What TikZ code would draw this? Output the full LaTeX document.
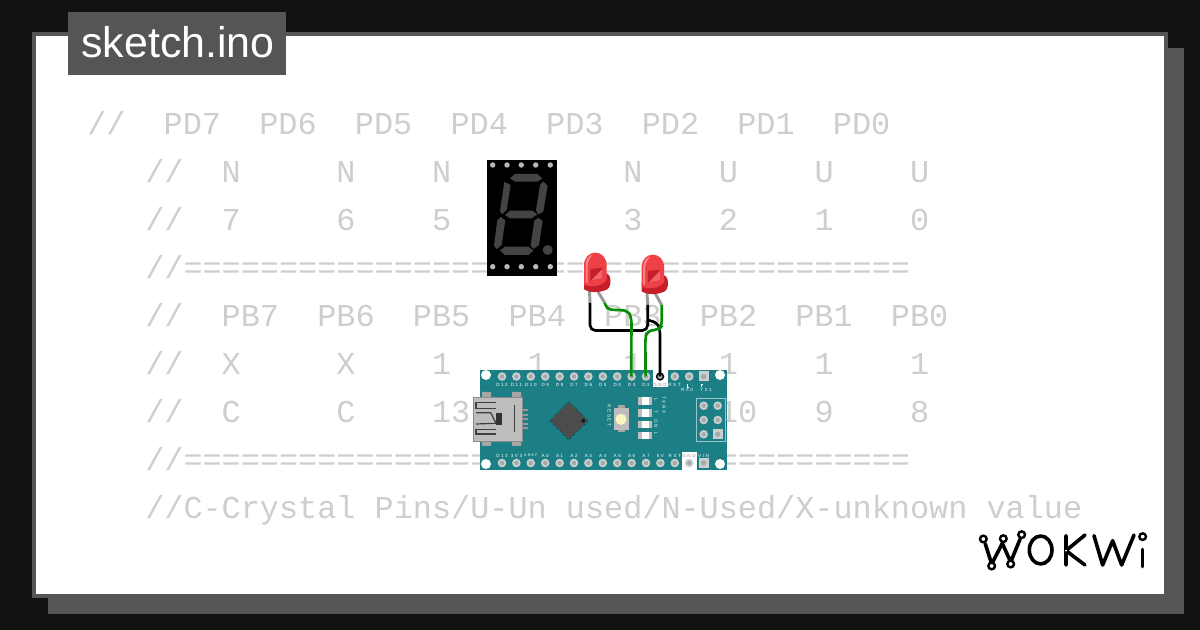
\documentclass[tikz,border=0pt]{standalone}
\usepackage{fontspec}
\setmainfont{Liberation Sans}
\newfontfamily\codefont{Liberation Mono}
\newfontfamily\pinfont[LetterSpace=35]{Liberation Sans}
\definecolor{bgdark}{HTML}{111111}
\definecolor{panelgrey}{HTML}{555555}
\definecolor{codegrey}{HTML}{CECECE}
\definecolor{boardteal}{HTML}{1B7F85}
\definecolor{pinring}{HTML}{C9CFCF}
\definecolor{pincore}{HTML}{A3A9A9}
\definecolor{usbgrey}{HTML}{BDBDBD}
\definecolor{segoff}{HTML}{444444}
\definecolor{ledred}{HTML}{EE4046}
\definecolor{leddark}{HTML}{C41F2A}
\definecolor{ledlight}{HTML}{FF8585}
\definecolor{legrey}{HTML}{9A9A9A}
\definecolor{wiregreen}{HTML}{088C08}
\tikzset{
  code/.style={anchor=base west,inner sep=0pt,text=codegrey,font=\codefont\fontsize{23.9}{24}\selectfont},
  pinlab/.style={inner sep=0pt,text=white,font=\pinfont\fontsize{3.4}{3.4}\selectfont},
  pinlabdark/.style={inner sep=0pt,text=black!45,font=\pinfont\fontsize{3.4}{3.4}\selectfont},
  seg/.style={fill=segoff,draw=none},
  logo/.style={draw=black,line width=2.7pt,line cap=round,line join=round,fill=none},
  logoring/.style={draw=black,line width=1.8pt,fill=white},
  blackwire/.style={draw=black,line width=2pt,rounded corners=4pt},
  greenwire/.style={draw=wiregreen,line width=2pt,rounded corners=4pt},
  leg/.style={draw=legrey,line width=2.2pt},
}
\newcommand{\pinhole}[1]{\fill[pinring] (#1) circle[radius=4.3];\fill[pincore] (#1) circle[radius=2.2];}
\newcommand{\squarepin}[1]{\fill[pinring] ($(#1)+(-5,-5)$) rectangle ($(#1)+(5,5)$);\fill[pincore] (#1) circle[radius=2.6];}
\newcommand{\ledbody}[2]{%
  \begin{scope}[shift={(#1,#2)},scale=0.3333]
    \fill[leddark] (27,105) -- (95,85) .. controls (110,90) and (110,125) .. (97,133) .. controls (75,144) and (45,144) .. (27,133) -- cycle;
    \fill[ledred] (27,118) -- (27,62) .. controls (27,10) and (95,10) .. (95,62) -- (95,105) .. controls (80,126) and (45,128) .. (27,118) -- cycle;
    \fill[ledlight] (32,112) -- (32,62) .. controls (32,42) and (42,32) .. (52,29) .. controls (44,40) and (38,52) .. (38,65) -- (38,114) -- cycle;
    \fill[leddark] (46,72) -- (82,68) -- (82,100) -- (46,106) -- cycle;
    \fill[ledred!80!white] (50,105) -- (82,72) -- (82,100) -- cycle;
  \end{scope}}
\usetikzlibrary{calc}
\begin{document}
\begin{tikzpicture}[x=0.75pt,y=-0.75pt]
\useasboundingbox (0,0) rectangle (1200,630);
\fill[bgdark] (0,0) rectangle (1200,630);
\fill[panelgrey] (48,48) rectangle (1184,614);
\draw[panelgrey,fill=white,line width=3pt] (34,34) rectangle (1166,596);
\fill[panelgrey] (68,12) rectangle (286,75);
\node[anchor=base west,inner sep=0pt,text=white,font=\fontsize{32.2}{32}\selectfont] (title) at (81,58) {sketch.ino};
% code text
\node[code] (code1) at (87,135) {//\ \ PD7\ \ PD6\ \ PD5\ \ PD4\ \ PD3\ \ PD2\ \ PD1\ \ PD0};
\node[code] (code2) at (145,183) {//\ \ N\ \ \ \ \ N\ \ \ \ N\ \ \ \ \ \ \ \ \ N\ \ \ \ U\ \ \ \ U\ \ \ \ U};
\node[code] (code3) at (145,231) {//\ \ 7\ \ \ \ \ 6\ \ \ \ 5\ \ \ \ \ \ \ \ \ 3\ \ \ \ 2\ \ \ \ 1\ \ \ \ 0};
\node[code] (code4) at (145,279) {//======================================};
\node[code] (code5) at (145,327) {//\ \ PB7\ \ PB6\ \ PB5\ \ PB4\ \ PB3\ \ PB2\ \ PB1\ \ PB0};
\node[code] (code6) at (145,375) {//\ \ X\ \ \ \ \ X\ \ \ \ 1\ \ \ \ 1\ \ \ \ 1\ \ \ \ 1\ \ \ \ 1\ \ \ \ 1};
\node[code] (code7) at (145,423) {//\ \ C\ \ \ \ \ C\ \ \ \ 13\ \ \ \ \ \ \ \ \ \ \ \ \ 10\ \ \ 9\ \ \ \ 8};
\node[code] (code8) at (145,471) {//======================================};
\node[code] (code9) at (145,519) {//C-Crystal Pins/U-Un used/N-Used/X-unknown value};
% seven segment display
\fill[black] (486.5,160) rectangle (557,276);
\foreach \px in {492.7,507,521.3,535.7,550.3}{
  \fill[black!28] (\px,165) circle[radius=2.7];
  \fill[black!28] (\px,266.7) circle[radius=2.7];
}
\begin{scope}[shift={(480,155)},scale=0.3333]
  \fill[segoff] (90,70)--(105,57)--(172,57)--(187,70)--(172,80)--(105,80)--cycle;
  \fill[segoff] (73,81)--(92,90)--(80,165)--(66,178)--(60,168)--cycle;
  \fill[segoff] (190,80)--(203,92)--(190,170)--(175,178)--(168,165)--(180,90)--cycle;
  \fill[segoff] (75,180)--(90,167)--(157,167)--(172,178)--(155,190)--(90,190)--cycle;
  \fill[segoff] (62,186)--(76,196)--(65,270)--(50,282)--(42,272)--(52,196)--cycle;
  \fill[segoff] (175,188)--(188,198)--(177,270)--(160,282)--(152,272)--(163,197)--cycle;
  \fill[segoff] (60,287)--(75,275)--(145,275)--(160,287)--(145,300)--(75,300)--cycle;
  \fill[segoff] (203,285) circle[radius=15];
\end{scope}
% LED legs and wire ends
\coordinate (ledAk) at (590,303);
\coordinate (ledAa) at (605,303);
\coordinate (ledBk) at (647.7,305);
\coordinate (ledBa) at (661.7,305);
\coordinate (pinD3) at (631.2,376.5);
\coordinate (pinD2) at (645.6,376.5);
\coordinate (pinGND) at (660,376.5);
\draw[leg] (589.5,290) -- (ledAk);
\draw[leg] (598,292) -- (ledAa);
\draw[leg] (647,293) -- (ledBk);
\draw[leg] (655,293) -- (ledBa);
\ledbody{575}{245}
\ledbody{632.5}{247}
% board
\fill[boardteal] (480,370) rectangle (727,470);
\foreach \hx/\hy in {486/375,486/464,720/375,720/464}{\fill[white] (\hx,\hy) circle[radius=5];}
\fill[white] (653.3,370) rectangle (667.7,387.5);
\fill[white] (682.3,452.3) rectangle (696.7,470);
\foreach \i in {0,...,13}{
  \pgfmathsetmacro{\px}{502+14.4*\i}
  \pinhole{\px,376.5}
  \pinhole{\px,463}
}
\squarepin{703.6,376.5}
\squarepin{703.6,463}
\foreach \lab [count=\i from 0] in {D12,D11,D10,D9,D8,D7,D6,D5,D4,D3,D2}{
  \pgfmathsetmacro{\px}{502+14.4*\i}
  \node[pinlab] (top\i) at (\px,385) {\lab};
}
\node[pinlabdark] (topgnd) at (660,385) {GND};
\node[pinlab] (toprst) at (674.5,385) {RST};
\node[pinlab] (toprx) at (687,389.5) {RX0};
\node[pinlab] (toptx) at (706,389.5) {TX1};
\draw[white,line width=0.4pt] (687.7,384) -- (687.7,387) -- (689,387) (701.7,384) -- (701.7,387) (700.7,384) -- (702.7,384);
\foreach \lab [count=\i from 0] in {D13,3V3}{
  \pgfmathsetmacro{\px}{502+14.4*\i}
  \node[pinlab] (bota\i) at (\px,455.5) {\lab};
}
\node[pinlab,font=\pinfont\fontsize{2.7}{2.7}\selectfont] (botref) at (530.8,455.5) {AREF};
\foreach \lab [count=\i from 3] in {A0,A1,A2,A3,A4,A5,A6,A7,5V,RST}{
  \pgfmathsetmacro{\px}{502+14.4*\i}
  \node[pinlab] (botb\i) at (\px,455.5) {\lab};
}
\node[pinlabdark] (botgnd) at (689,455.5) {GND};
\node[pinlab] (botvin) at (703.6,455.5) {VIN};
% USB
\fill[black!35] (482,392) rectangle (491,397) (512,392) rectangle (521,397) (482,441) rectangle (491,446) (512,441) rectangle (521,446);
\foreach \uy in {410.5,415,419.5,424,428.5}{\fill[black!40] (522,\uy-1) rectangle (528,\uy+1);}
\draw[black!45,fill=usbgrey,line width=0.4pt] (473,397) rectangle (522.7,441);
\begin{scope}[shift={(470,360)},scale=0.3333]
  \draw[black!75,line width=0.9pt] (78,128)--(18,128)--(18,145)--(78,145);
  \draw[black!75,line width=0.9pt] (18,158)--(62,158)--(78,190)--(18,192);
  \draw[black!75,line width=0.9pt] (78,208)--(18,208)--(18,222)--(78,222);
  \fill[black!80] (78,160) rectangle (97,195);
  \draw[black!75,line width=1.1pt] (133,135)--(133,215);
\end{scope}
% chip
\fill[black!70] (569,402.2)--(587.5,420.7)--(569,439.2)--(550.5,420.7)--cycle;
\draw[black!70!boardteal,densely dotted,line width=0.5pt] (569,401.5)--(588.2,420.7)--(569,439.9)--(549.8,420.7)--cycle;
\fill[black!90] (583.3,420.7) circle[radius=2];
% reset button
\fill[black!35] (617.5,405) rectangle (625,432.5);
\fill[usbgrey] (614.3,408) rectangle (629,430);
\fill[black!10!yellow!25!white] (621,419.3) circle[radius=5.6];
\node[pinlab,rotate=-90] (resetlab) at (609.3,415.5) {RESET};
% small LEDs
\foreach \ly in {401,413,424.5,435.5}{
  \fill[usbgrey] (637.7,\ly-3.8) rectangle (652.3,\ly+3.8);
  \fill[white] (641.5,\ly-3.8) rectangle (648.5,\ly+3.8);
}
\node[pinlab,rotate=-90] (ledL) at (656,400) {L};
\node[pinlab,rotate=-90] (ledT) at (656,412) {T};
\node[pinlab,rotate=-90] (ledON) at (656,423.5) {ON};
\node[pinlab,rotate=-90] (ledLb) at (656,434) {L};
\node[pinlab,rotate=-90] (ledTX) at (664,405) {TXRX};
% ICSP
\draw[boardteal!45!white,line width=0.6pt] (696.7,398.3) rectangle (725.7,441);
\foreach \ix/\iy in {703.7/405.7,717.7/405.7,703.7/420,717.7/420,703.7/434.3}{\pinhole{\ix,\iy}}
\squarepin{717.7,434.3}
% wires
\draw[black,line width=1pt,fill=pincore] (pinGND) circle[radius=3.4];
\draw[blackwire] (ledAk) -- (590,330.5) -- (647.7,330.5) -- (ledBk);
\draw[blackwire] (647.7,320) -- (658,323) -- (660,330) -- (pinGND);
\draw[greenwire] (ledAa) -- (606,309.5) -- (628,310.5) -- (631.5,318) -- (pinD3);
\draw[greenwire] (ledBa) -- (661.7,326) -- (659,329.5) -- (647,331) -- (645.3,338) -- (pinD2);
% logo
\begin{scope}[shift={(970,520)},scale=0.3333]
  \draw[logo] (46,72) -- (65,132) -- (97,70) -- (122,126) -- (150,58);
  \draw[logoring] (40,57) circle[radius=10];
  \draw[logoring] (65,138) circle[radius=10];
  \draw[logoring] (100,56) circle[radius=10];
  \draw[logoring] (122,132) circle[radius=10];
  \draw[logoring] (155,44) circle[radius=10];
  \draw[logo] (212,90) ellipse[x radius=34,y radius=42];
  \draw[logo] (288,47) -- (288,135) (288,92) -- (345,45) (288,92) -- (345,135);
  \fill[white] (288,92) circle[radius=3];
  \draw[logo] (372,47) -- (398,135) -- (428,62) -- (455,135) -- (492,45);
  \draw[logo] (517,88) -- (517,140);
  \draw[logoring] (518,50) circle[radius=10];
\end{scope}
\end{tikzpicture}
\end{document}
